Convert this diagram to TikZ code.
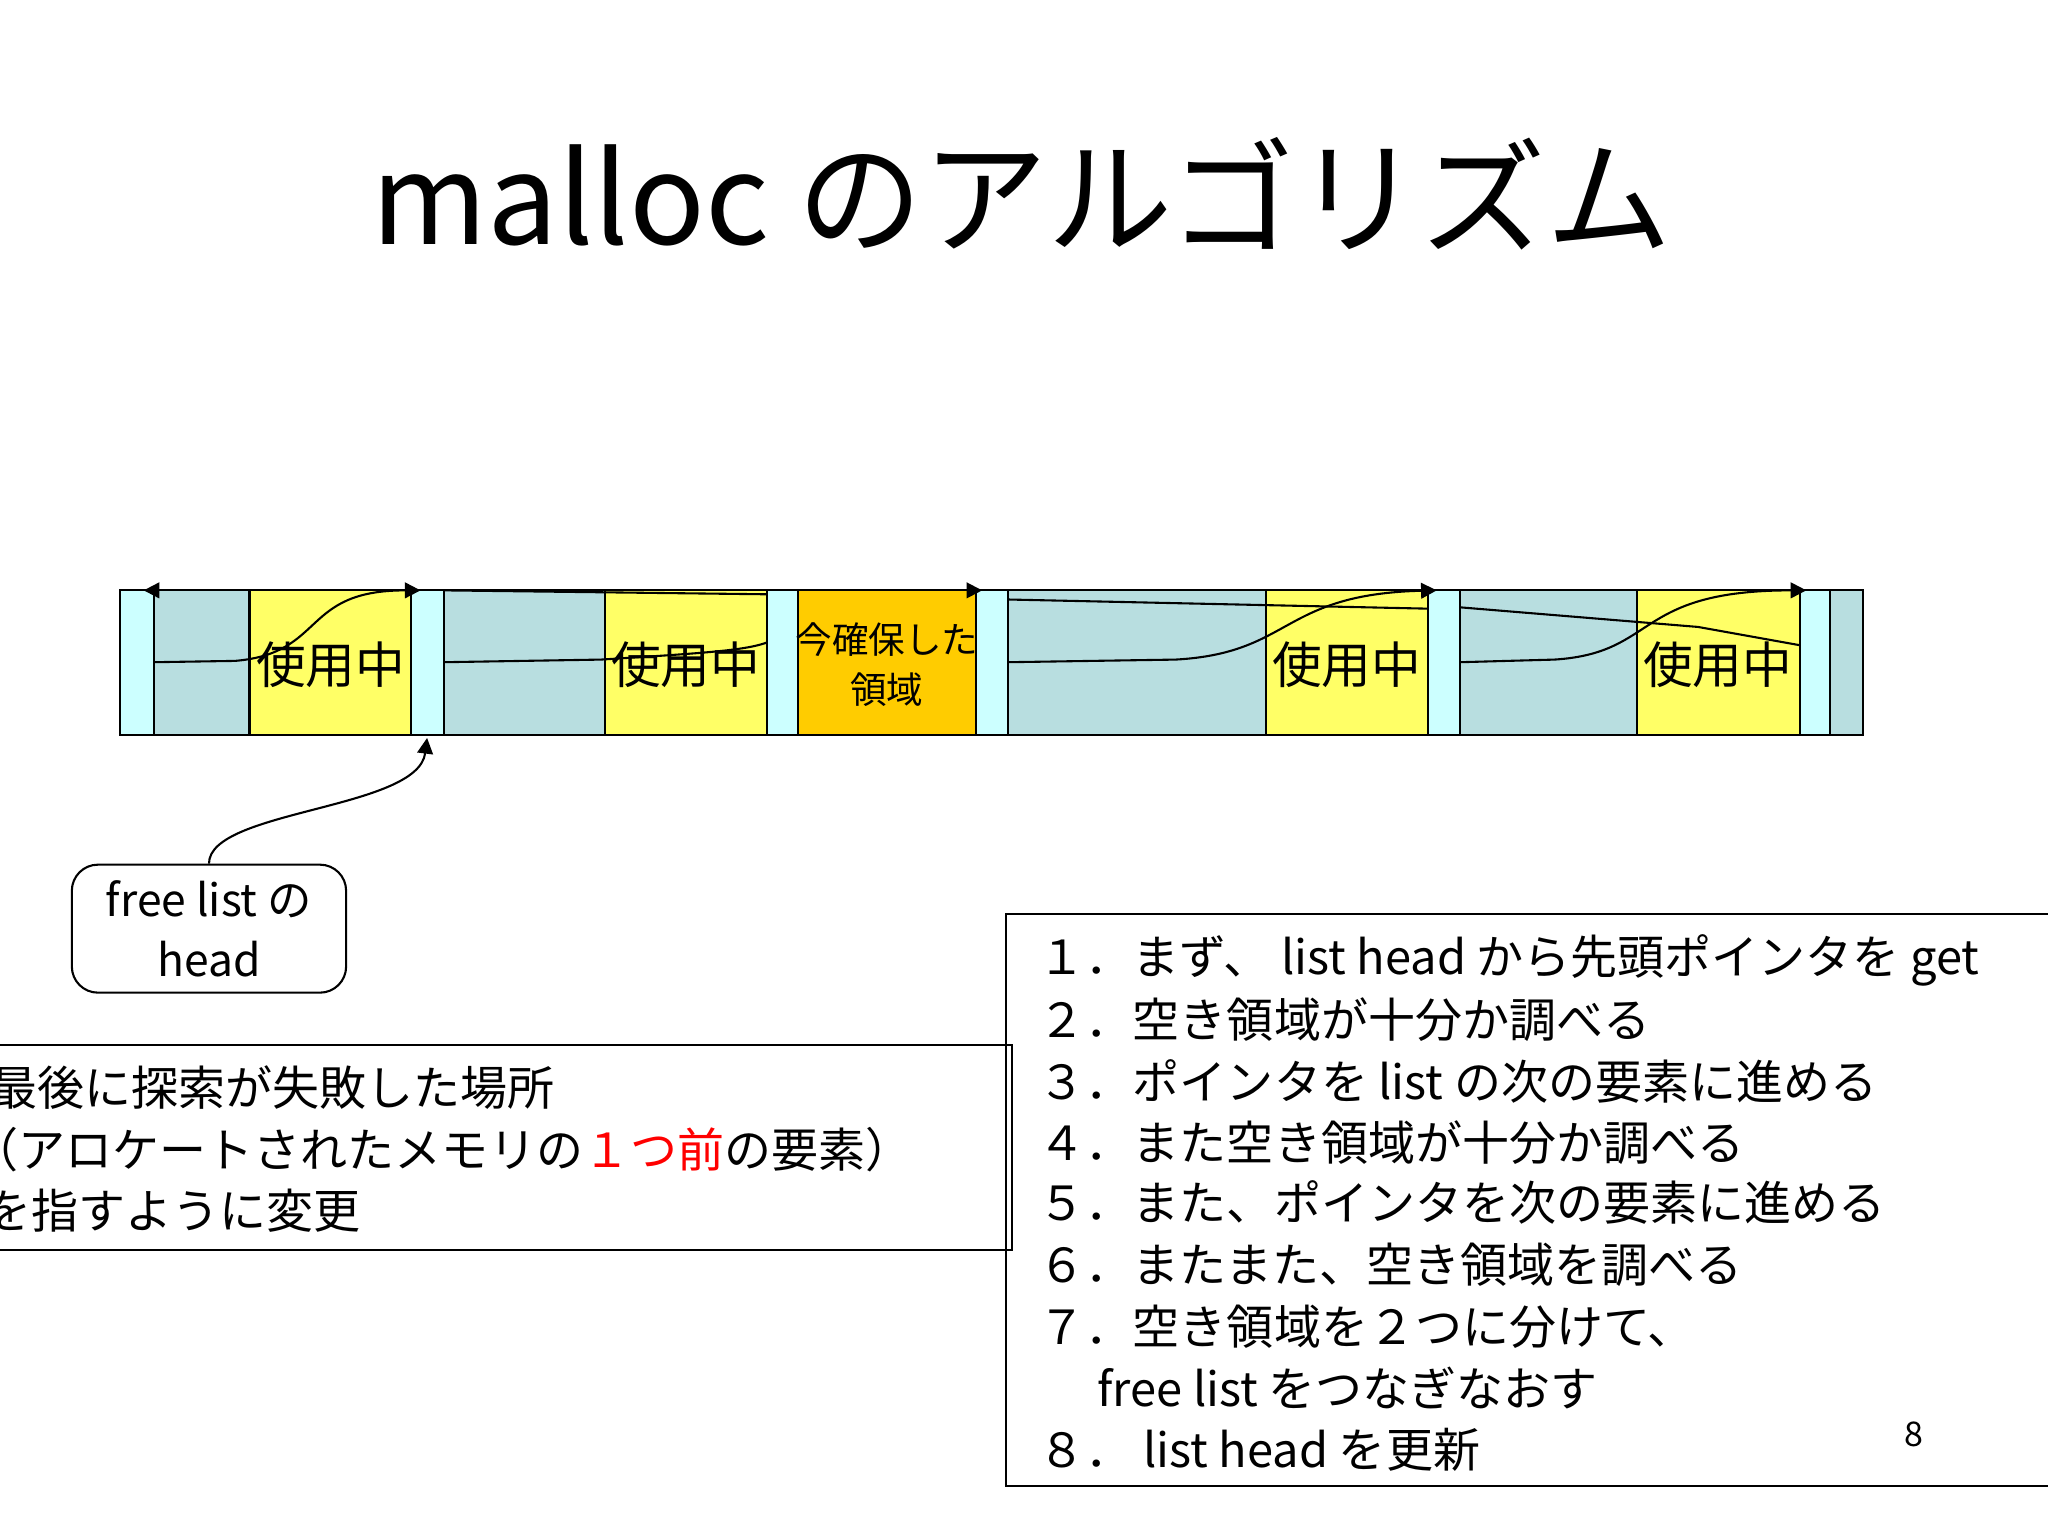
\documentclass[tikz,border=0pt]{standalone}
\usepackage{fontspec}
\setmainfont{Noto Sans CJK JP}
\usetikzlibrary{arrows.meta}
\definecolor{hdr}{HTML}{CCFFFF}
\definecolor{freec}{HTML}{B8DEE0}
\definecolor{usedc}{HTML}{FFFF66}
\definecolor{newc}{HTML}{FFCC00}
\tikzset{
  blk/.style={draw=black,thick},
  lnk/.style={thick},
  ptr/.style={thick,-{Triangle[length=6pt,width=6pt]}},
  txt/.style={anchor=west,inner sep=0pt,font=\fontsize{18}{21}\selectfont}
}
\begin{document}
\begin{tikzpicture}[x=0.5pt,y=-0.5pt]
\useasboundingbox (0,0) rectangle (1568,1176);
\node (title) at (782,148) {\fontsize{48}{56}\selectfont malloc のアルゴリズム};
% memory blocks
\foreach \a/\b/\c [count=\i] in {92/118/hdr,118/191/freec,191/315/usedc,315/340/hdr,
  340/463/freec,463/587/usedc,587/611/hdr,611/747/newc,747/772/hdr,772/969/freec,
  969/1093/usedc,1093/1118/hdr,1118/1253/freec,1253/1378/usedc,1378/1401/hdr,1401/1426/freec}
  \filldraw[blk,fill=\c] (\a,452) rectangle (\b,563) coordinate (b\i);
\foreach \x/\n in {253/u1,525/u2,1031/u3,1315/u4}
  \node (\n) at (\x,509) {\fontsize{19}{22}\selectfont 使用中};
\node[align=center,font=\fontsize{14}{19}\selectfont] (new) at (679,509) {今確保した\\領域};
% free list links
\coordinate (p1) at (322,452);
\coordinate (p2) at (752,452);
\coordinate (p3) at (1100,452);
\coordinate (p4) at (1383,452);
\coordinate (p0) at (110,452);
\draw[ptr] (340,452) -- (p0);
\draw[ptr] (118,507) -- (180,506) .. controls (250,500) and (230,452) .. (p1);
\draw[lnk] (340,507) -- (460,505) .. controls (540,500) and (570,498) .. (587,492);
\draw[lnk] (340,452) -- (587,455);
\draw[ptr] (611,452) -- (p2);
\draw[lnk] (772,459) -- (1093,466);
\draw[ptr] (772,507) -- (900,505) .. controls (990,500) and (980,455) .. (p3);
\draw[lnk] (1118,465) -- (1300,480) -- (1378,494);
\draw[ptr] (1118,507) -- (1190,505) .. controls (1270,500) and (1250,452) .. (p4);
% head label
\node[draw,thick,rounded corners=10pt,minimum width=105pt,minimum height=49pt,align=center,
  font=\fontsize{17}{23}\selectfont] (head) at (160,711) {free list の\\head};
\draw[ptr] (head.north) .. controls (160,620) and (320,620) .. (327,565);
% left note
\draw[thick] (-10,800) rectangle (775,957);
\node[txt] (l1) at (-8,833) {最後に探索が失敗した場所};
\node[txt] (l2) at (-22,880) {（アロケートされたメモリの\textcolor{red}{１つ前}の要素）};
\node[txt] (l3) at (-12,927) {を指すように変更};
% steps
\draw[thick] (770,700) rectangle (1580,1138);
\foreach \y/\t in {735/{１．まず、 list head から先頭ポインタを get},
  781/{２．空き領域が十分か調べる},
  828/{３．ポインタを list の次の要素に進める},
  875/{４．また空き領域が十分か調べる},
  921/{５．また、ポインタを次の要素に進める},
  968/{６．またまた、空き領域を調べる},
  1016/{７．空き領域を２つに分けて、},
  1110/{８． list head  を更新}}
  \node[txt] at (795,\y) {\t};
\node[txt] (s7b) at (840,1063) {free list をつなぎなおす};
\node (page) at (1465,1098) {\fontsize{13}{15}\selectfont 8};
\end{tikzpicture}
\end{document}
